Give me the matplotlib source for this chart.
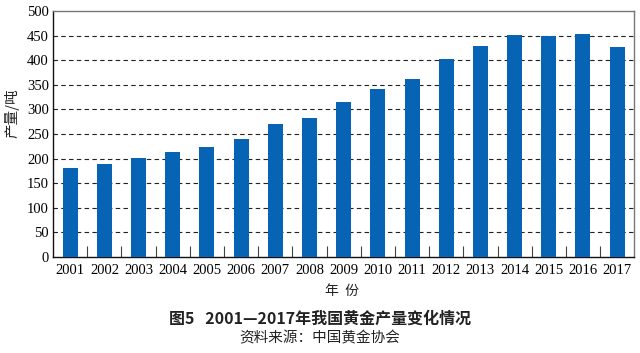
import matplotlib
matplotlib.use("Agg")
import matplotlib.pyplot as plt
import numpy as np

years = ["2001", "2002", "2003", "2004", "2005", "2006", "2007", "2008", "2009",
         "2010", "2011", "2012", "2013", "2014", "2015", "2016", "2017"]
output = [181.83, 189.81, 200.60, 212.35, 224.05, 240.08, 270.49, 282.01, 313.98,
          340.88, 360.96, 403.05, 428.16, 451.80, 450.05, 453.49, 426.14]
yticks = [0, 50, 100, 150, 200, 250, 300, 350, 400, 450, 500]

cjk = ["Noto Sans CJK SC", "DejaVu Sans"]
serif = ["Liberation Serif", "DejaVu Serif"]

fig = plt.figure(figsize=(6.4, 3.53), dpi=100)
ax = fig.add_axes([0.083, 0.272, 0.908, 0.697])

x = np.arange(len(years))
ax.bar(x, output, width=0.44, color="#0763b3", zorder=3)

ax.set_xlim(-0.5, len(years) - 0.5)
ax.set_ylim(0, 500)
ax.set_yticks(yticks)
ax.set_yticklabels([str(v) for v in yticks], fontfamily=serif, fontsize=10.5)
ax.set_xticks(x)
ax.set_xticklabels(years, fontfamily=serif, fontsize=10.5)
ax.tick_params(axis="x", length=0, pad=5)
ax.tick_params(axis="y", length=0, pad=3)
ax.set_xticks(np.arange(0.5, len(years) - 1, 1), minor=True)
ax.tick_params(axis="x", which="minor", direction="in", length=8, width=0.8, color="#444444")

for v in yticks[1:-1]:
    ax.axhline(v, color="#222222", linestyle=(0, (4, 3)), linewidth=0.8, zorder=1)

for s in ["left", "bottom"]:
    ax.spines[s].set_color("#111111")
    ax.spines[s].set_linewidth(1.0)
for s in ["top", "right"]:
    ax.spines[s].set_color("#777777")
    ax.spines[s].set_linewidth(1.0)

fig.text(0.019, 0.68, "产量/吨", ha="center", va="center", rotation=90,
         fontfamily=cjk, fontsize=10.5, color="#222222")
fig.text(0.535, 0.175, "年  份", ha="center", va="center", fontfamily=cjk, fontsize=10,
         color="#222222")
fig.text(0.5, 0.098, "图5   2001—2017年我国黄金产量变化情况", ha="center", va="center",
         fontfamily=cjk, fontsize=11.5, fontweight="bold", color="#222222")
fig.text(0.5, 0.042, "资料来源：中国黄金协会", ha="center", va="center",
         fontfamily=cjk, fontsize=10.5, color="#222222")

fig.savefig("out.png", dpi=100)
